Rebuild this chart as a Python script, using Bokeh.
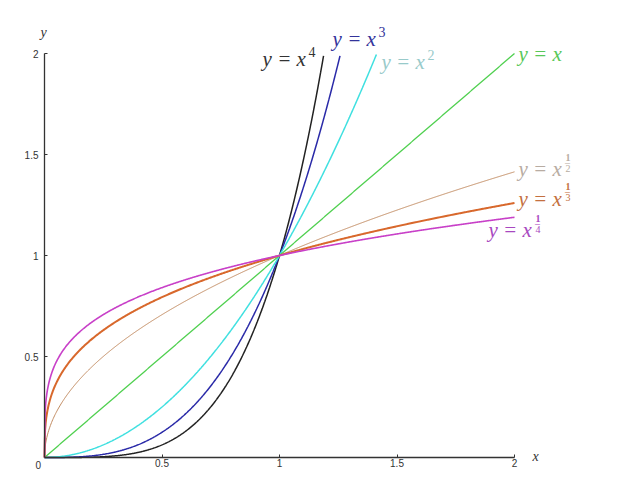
import numpy as np
from bokeh.plotting import figure
from bokeh.models import Range1d, Label, FixedTicker
from bokeh.embed import file_html
from bokeh.resources import INLINE

# exponents of the power functions y = x^n
exponents = [4, 3, 2, 1, 1/2, 1/3, 1/4]
line_colors = ["#222222", "#2a2aa8", "#40e0e0", "#50d050", "#c08a60", "#d8682c", "#c840c8"]
line_widths = [1.5, 1.5, 1.5, 1.3, 1.0, 2.0, 1.6]
x_samples = np.linspace(0.0, 2.0, 801)
x_ticks = [0.5, 1, 1.5, 2]
y_ticks = [0.5, 1, 1.5, 2]

# label: (base text, superscript numerator, denominator or None, x, y, color)
labels = [
    ("y = x", "4", None, 0.928, 1.975, "#333333"),
    ("y = x", "3", None, 1.226, 2.070, "#33339a"),
    ("y = x", "2", None, 1.434, 1.960, "#98caca"),
    ("y = x", None, None, 2.017, 1.998, "#58c858"),
    ("y = x", "1", "2", 2.017, 1.428, "#b8aca2"),
    ("y = x", "1", "3", 2.017, 1.280, "#c47040"),
    ("y = x", "1", "4", 1.889, 1.126, "#a848c0"),
]

W, H = 605, 476
X0, Y0, SX, SY = 44, 457, 235, 202
p = figure(width=W, height=H, output_backend="svg", toolbar_location=None,
           x_range=Range1d(-X0 / SX, (W - X0) / SX),
           y_range=Range1d(-(H - Y0) / SY, Y0 / SY),
           min_border=0)
p.outline_line_color = None
p.xgrid.visible = False
p.ygrid.visible = False
p.background_fill_color = "white"
p.border_fill_color = "white"

p.xaxis.fixed_location = 0
p.yaxis.fixed_location = 0
for ax, ticks in ((p.xaxis[0], x_ticks), (p.yaxis[0], y_ticks)):
    ax.ticker = FixedTicker(ticks=ticks)
    ax.bounds = (0, 2)
    ax.minor_tick_line_color = None
    ax.major_tick_in = 3
    ax.major_tick_out = 0
    ax.axis_line_color = "#333333"
    ax.axis_line_width = 1.3
    ax.major_tick_line_color = "#333333"
    ax.major_label_text_font = "Liberation Sans"
    ax.major_label_text_font_size = "10px"
    ax.major_label_text_color = "#333333"
p.xaxis.major_label_standoff = 1
p.yaxis.major_label_standoff = 6

for n, c, w in zip(exponents, line_colors, line_widths):
    mask = x_samples ** n <= 2.0
    p.line(x_samples[mask], (x_samples ** n)[mask], line_color=c, line_width=w)

# origin label and axis names
p.add_layout(Label(x=0, y=0, text="0", x_offset=-9, y_offset=-11,
                   text_font="Liberation Sans", text_font_size="10px", text_color="#333333"))
p.add_layout(Label(x=0, y=2, text="y", x_offset=-4, y_offset=14,
                   text_font="Liberation Serif", text_font_style="italic",
                   text_font_size="14px", text_color="#333333"))
p.add_layout(Label(x=2, y=0, text="x", x_offset=18, y_offset=-6,
                   text_font="Liberation Serif", text_font_style="italic",
                   text_font_size="14px", text_color="#333333"))

base_w = 46
for base, num, den, lx, ly, col in labels:
    p.add_layout(Label(x=lx, y=ly, text=base, text_baseline="middle",
                       text_font="Liberation Serif", text_font_style="italic",
                       text_font_size="21px", text_color=col))
    if num is not None and den is None:
        p.add_layout(Label(x=lx, y=ly, text=num, x_offset=base_w, y_offset=7,
                           text_baseline="middle", text_font="Liberation Serif",
                           text_font_size="14px", text_color=col))
    elif num is not None:
        p.add_layout(Label(x=lx, y=ly, text=num, x_offset=base_w + 1, y_offset=12,
                           text_baseline="middle", text_font="Liberation Serif",
                           text_font_size="10px", text_font_style="bold", text_color=col))
        p.add_layout(Label(x=lx, y=ly, text="\u2013", x_offset=base_w + 0.5, y_offset=7,
                           text_baseline="middle", text_font="Liberation Serif",
                           text_font_size="10px", text_color=col))
        p.add_layout(Label(x=lx, y=ly, text=den, x_offset=base_w + 1, y_offset=1,
                           text_baseline="middle", text_font="Liberation Serif",
                           text_font_size="10px", text_color=col))

open("out.html", "w").write(file_html(p, INLINE))
